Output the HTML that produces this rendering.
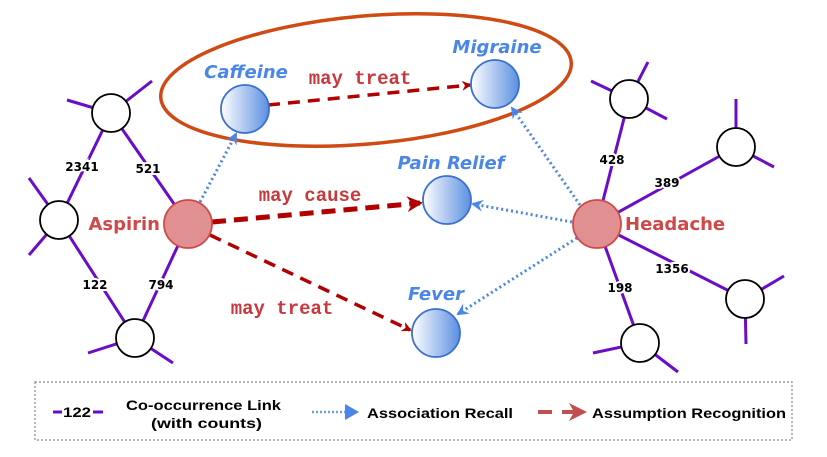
<!DOCTYPE html>
<html><head><style>
body{margin:0;background:#fff;}
svg{display:block;}
</style></head><body>
<svg width="827" height="457" viewBox="0 0 827 457" xmlns="http://www.w3.org/2000/svg">
<defs>
<linearGradient id="bg" x1="0" x2="1" y1="0" y2="0">
<stop offset="0" stop-color="#ffffff"/><stop offset="1" stop-color="#5b8fe0"/>
</linearGradient>
<marker id="ar" markerWidth="10" markerHeight="10" refX="8" refY="5" orient="auto" markerUnits="userSpaceOnUse"><path d="M0,0 L10,5 L0,10 L3,5 z" fill="#b00000"/></marker>
<marker id="arb" markerWidth="16" markerHeight="16" refX="13" refY="8" orient="auto" markerUnits="userSpaceOnUse"><path d="M0,0 L16,8 L0,16 L5,8 z" fill="#b00000"/></marker>
<marker id="ab" markerWidth="12" markerHeight="12" refX="10" refY="6" orient="auto" markerUnits="userSpaceOnUse"><path d="M0,0 L12,6 L0,12 L4,6 z" fill="#4a86e8"/></marker>
</defs>
<g stroke="#6a0dc8" stroke-width="3" fill="none">
<line x1="111" y1="113" x2="67" y2="100"/><line x1="111" y1="113" x2="152" y2="81"/>
<line x1="111" y1="113" x2="59" y2="220"/><line x1="111" y1="113" x2="188" y2="224"/>
<line x1="59" y1="220" x2="29" y2="178"/><line x1="59" y1="220" x2="29" y2="255"/>
<line x1="59" y1="220" x2="135" y2="338"/><line x1="188" y1="224" x2="135" y2="338"/>
<line x1="135" y1="338" x2="88" y2="353"/><line x1="135" y1="338" x2="173" y2="363"/>
<line x1="629" y1="99" x2="648" y2="62"/><line x1="629" y1="99" x2="591" y2="81"/><line x1="629" y1="99" x2="667" y2="119"/>
<line x1="629" y1="99" x2="597" y2="224"/>
<line x1="736" y1="147" x2="736" y2="99"/><line x1="736" y1="147" x2="774" y2="167"/><line x1="736" y1="147" x2="597" y2="224"/>
<line x1="745" y1="299" x2="784" y2="276"/><line x1="745" y1="299" x2="746" y2="344"/><line x1="745" y1="299" x2="597" y2="224"/>
<line x1="640" y1="343" x2="593" y2="353"/><line x1="640" y1="343" x2="678" y2="372"/><line x1="640" y1="343" x2="597" y2="224"/>
</g>
<g font-family="'DejaVu Sans',sans-serif" font-weight="bold" font-size="12" fill="#000" text-anchor="middle" stroke="#fff" stroke-width="4" paint-order="stroke">
<text x="82" y="171">2341</text><text x="148" y="173">521</text>
<text x="95" y="289">122</text><text x="161" y="289">794</text>
<text x="612" y="164">428</text><text x="667" y="187">389</text>
<text x="672" y="273">1356</text><text x="620" y="292">198</text>
</g>
<g fill="#fff" stroke="#000" stroke-width="1.8">
<circle cx="111" cy="113" r="19"/><circle cx="59" cy="220" r="19"/><circle cx="135" cy="338" r="19"/>
<circle cx="629" cy="99" r="19"/><circle cx="736" cy="147" r="19"/><circle cx="745" cy="299" r="19"/><circle cx="640" cy="343" r="19"/>
</g>
<ellipse cx="366" cy="80" rx="206" ry="64" transform="rotate(-5 366 80)" fill="none" stroke="#d04a14" stroke-width="3.5"/>
<g stroke="#4a86e8" stroke-width="3" stroke-dasharray="2,3" fill="none">
<line x1="200" y1="202" x2="236" y2="134" marker-end="url(#ab)"/>
<line x1="580" y1="205" x2="512" y2="108" marker-end="url(#ab)"/>
<line x1="572" y1="222" x2="473" y2="204" marker-end="url(#ab)"/>
<line x1="577" y1="238" x2="458" y2="314" marker-end="url(#ab)"/>
</g>
<g stroke="#b00000" fill="none">
<line x1="268" y1="105" x2="470" y2="85" stroke-width="3.5" stroke-dasharray="12,8" marker-end="url(#ar)"/>
<line x1="212" y1="222" x2="420" y2="203" stroke-width="5" stroke-dasharray="14,8" marker-end="url(#arb)"/>
<line x1="210" y1="235" x2="410" y2="330" stroke-width="3.5" stroke-dasharray="12,8" marker-end="url(#ar)"/>
</g>
<g font-family="'Liberation Mono',monospace" font-weight="bold" font-size="19" fill="#c8383c" text-anchor="middle">
<text x="360" y="84">may treat</text><text x="310" y="201">may cause</text><text x="282" y="314">may treat</text>
</g>
<g stroke="#3a70d0" stroke-width="1.8" fill="url(#bg)">
<circle cx="245" cy="109" r="24"/><circle cx="495" cy="84" r="24"/><circle cx="447" cy="200" r="24"/><circle cx="436" cy="333" r="24"/>
</g>
<g fill="#e09090" stroke="#d04848" stroke-width="1.8">
<circle cx="188" cy="224" r="24"/><circle cx="597" cy="224" r="24"/>
</g>
<g font-family="'DejaVu Sans',sans-serif" font-weight="bold" font-style="italic" font-size="18" fill="#4a86e8" text-anchor="middle">
<text x="246" y="78">Caffeine</text><text x="497" y="53">Migraine</text><text x="451" y="169">Pain Relief</text><text x="436" y="300">Fever</text>
</g>
<g font-family="'DejaVu Sans',sans-serif" font-weight="bold" font-size="18" fill="#d04848">
<text x="160" y="230" text-anchor="end">Aspirin</text><text x="625" y="230">Headache</text>
</g>
<rect x="35" y="382" width="757" height="58" fill="none" stroke="#888" stroke-width="1.2" stroke-dasharray="2,2"/>
<g font-family="'Liberation Sans',sans-serif" font-weight="bold" font-size="14" fill="#000">
<line x1="53" y1="412" x2="62" y2="412" stroke="#6a0dc8" stroke-width="3"/>
<text x="63" y="417" textLength="28" lengthAdjust="spacingAndGlyphs">122</text>
<line x1="93" y1="412" x2="103" y2="412" stroke="#6a0dc8" stroke-width="3"/>
<text x="126" y="410" textLength="155" lengthAdjust="spacingAndGlyphs">Co-occurrence Link</text>
<text x="151" y="428" textLength="111" lengthAdjust="spacingAndGlyphs">(with counts)</text>
<line x1="312" y1="412" x2="346" y2="412" stroke="#6fa0ee" stroke-width="2.5" stroke-dasharray="2,2"/>
<path d="M345,404 L359,412 L345,420 z" fill="#4a86e8"/>
<text x="367" y="418" textLength="146" lengthAdjust="spacingAndGlyphs">Association Recall</text>
<line x1="538" y1="412" x2="552" y2="412" stroke="#c05050" stroke-width="4"/>
<path d="M569,403 L587,412 L569,421 L574,412 z" fill="#c05050"/>
<line x1="562" y1="412" x2="576" y2="412" stroke="#c05050" stroke-width="4"/>
<text x="592" y="418" textLength="194" lengthAdjust="spacingAndGlyphs">Assumption Recognition</text>
</g>
</svg>
</body></html>
